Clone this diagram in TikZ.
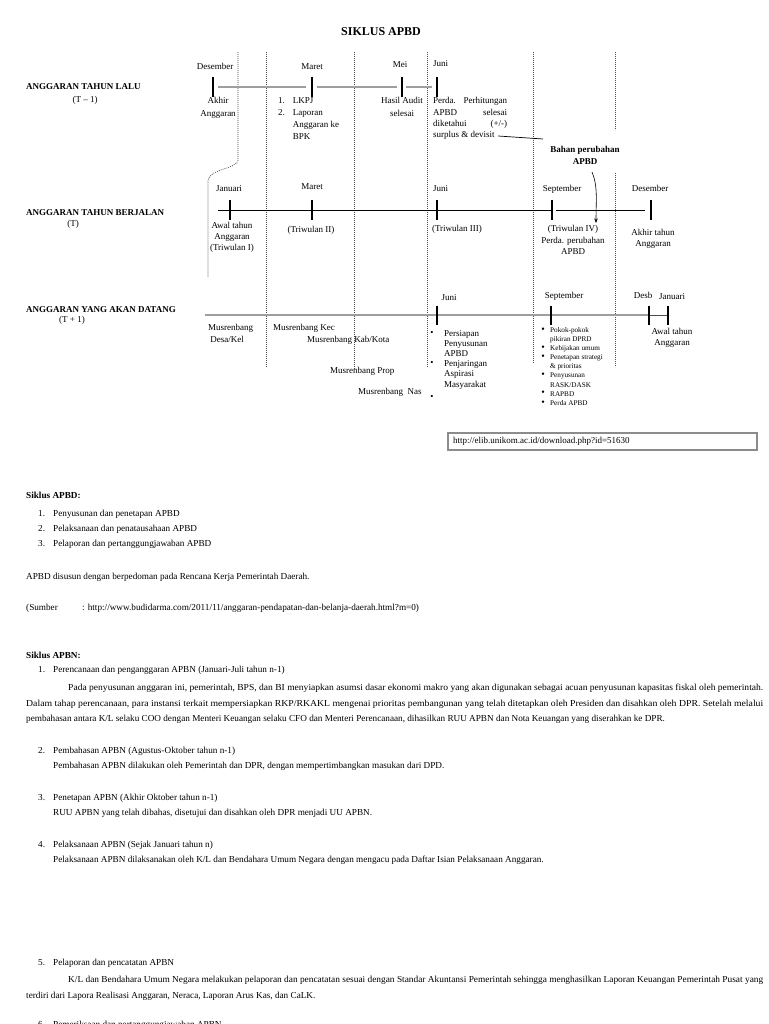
\documentclass[tikz,border=0pt]{standalone}
\usepackage{fontspec}
\setmainfont{Liberation Serif}
\usepackage{graphicx}
\usetikzlibrary{arrows.meta}
\newcommand\cstack[1]{\begin{tabular}[t]{@{}c@{}}#1\end{tabular}}
\newcommand\lstack[1]{\begin{tabular}[t]{@{}l@{}}#1\end{tabular}}
\newcommand\fitw[2]{\resizebox{#1pt}{\height}{#2}}
\begin{document}
\begin{tikzpicture}[x=1pt,y=-1pt,
  txt/.style={inner sep=0pt, font=\fontsize{9}{11.5}\selectfont},
  smalltxt/.style={inner sep=0pt, font=\fontsize{7.2}{9.1}\selectfont},
  body/.style={inner sep=0pt, anchor=base west, font=\fontsize{9.2}{11}\selectfont},
  bodyb/.style={body, font=\bfseries\fontsize{9.2}{11}\selectfont},
  rowlbl/.style={inner sep=0pt, anchor=base west, font=\bfseries\fontsize{9}{11}\selectfont},
  tickmark/.style={line width=2.4pt, black},
  greyline/.style={black!38, line width=1.1pt},
  blackline/.style={black, line width=0.9pt},
  dotln/.style={black!70, line width=0.75pt, dash pattern=on 0.9pt off 1.1pt},
  urlbox/.style={draw=black!45, line width=1.2pt, inner xsep=5pt, inner ysep=0pt,
    minimum height=17pt, text width=299pt, align=left, font=\fontsize{9}{11}\selectfont}
]
\useasboundingbox (0,0) rectangle (768,1024);
\clip (0,0) rectangle (768,1024);
\fill[white] (0,0) rectangle (768,1024);

% title
\node[inner sep=0pt, anchor=base, font=\bfseries\fontsize{12}{14}\selectfont] (title) at (381,36) {SIKLUS APBD};

% row labels
\node[rowlbl] (r1) at (26,90) {ANGGARAN TAHUN LALU};
\node[txt, anchor=base] (r1b) at (85,103) {(T – 1)};
\node[rowlbl] (r2) at (26,216) {ANGGARAN TAHUN BERJALAN};
\node[txt, anchor=base] (r2b) at (73,226) {(T)};
\node[rowlbl] (r3) at (26,312) {ANGGARAN YANG AKAN DATANG};
\node[txt, anchor=base] (r3b) at (72,322) {(T + 1)};

% dotted separators
\draw[dotln] (238,52) -- (238,161) .. controls (233,170) and (212,168) .. (208,180) -- (208,277);
\draw[dotln] (266,52) -- (266,367);
\draw[dotln] (354,52) -- (354,370);
\draw[dotln] (427,52) -- (427,367);
\draw[dotln] (533,52) -- (533,363);
\draw[dotln] (615,52) -- (615,130);
\draw[dotln] (615,173) -- (615,367);

% timeline T-1
\coordinate (d1) at (213,87);
\coordinate (m1) at (312,87);
\coordinate (e1) at (402,87);
\coordinate (j1) at (437,87);
\draw[greyline] ([xshift=5pt]d1) -- ([xshift=-6pt]m1);
\draw[greyline] ([xshift=5pt]m1) -- ([xshift=-5pt]e1);
\draw[greyline] ([xshift=4pt]e1) -- ([xshift=-5pt]j1);
\foreach \c in {d1,m1,e1,j1} \draw[tickmark] ([yshift=10pt]\c) -- ([yshift=-10pt]\c);

% timeline T
\coordinate (t2s) at (218,210);
\coordinate (ja2) at (230,210);
\coordinate (m2) at (312,210);
\coordinate (ju2) at (437,210);
\coordinate (s2) at (552,210);
\coordinate (de2) at (651,210);
\draw[blackline] (t2s) -- (s2);
\draw[blackline] ([xshift=4pt]s2) -- ([xshift=-6pt]de2);
\foreach \c in {ja2,m2,ju2,s2,de2} \draw[tickmark] ([yshift=10pt]\c) -- ([yshift=-10pt]\c);

% timeline T+1
\coordinate (t3s) at (205,315);
\coordinate (ju3) at (437,315);
\coordinate (s3) at (551,315);
\coordinate (db3) at (649,315);
\coordinate (ja3) at (668,315);
\draw[greyline] (t3s) -- (db3);
\draw[black!70, line width=0.8pt] (db3) -- (ja3);
\foreach \c in {ju3,s3,db3,ja3} \draw[tickmark] ([yshift=9.5pt]\c) -- ([yshift=-9.5pt]\c);

% labels T-1
\node[txt, anchor=base] (lDes1) at (215,70) {Desember};
\node[txt, anchor=base] (lMar1) at (312,70) {Maret};
\node[txt, anchor=base] (lMei1) at (400,68) {Mei};
\node[txt, anchor=base west] (lJun1) at (433,67) {Juni};
\node[txt, anchor=base, font=\fontsize{9}{12.5}\selectfont] (akhir1) at (218,104) {\cstack{Akhir\\Anggaran}};
\node[txt, anchor=base west, font=\fontsize{9}{11.8}\selectfont] (lkpj) at (278,104)
  {\begin{tabular}[t]{@{}l@{\hspace{8pt}}l@{}}1.&LKPJ\\2.&Laporan\\&Anggaran ke\\&BPK\end{tabular}};
\node[txt, anchor=base, font=\fontsize{9}{12.5}\selectfont] (audit) at (402,104) {\cstack{Hasil Audit\\selesai}};
\node[txt, anchor=base west, font=\fontsize{9}{11.3}\selectfont] (perda1) at (433,104)
  {\lstack{\makebox[74pt][s]{Perda.\ \ Perhitungan}\\\makebox[74pt][s]{APBD selesai}\\\makebox[74pt][s]{diketahui (+/-)}\\surplus \& devisit}};
\coordinate (cs) at (498,136);
\coordinate (ce) at (543,139);
\draw[line width=0.7pt] (cs) -- (ce);
\node[txt, anchor=base, font=\bfseries\fontsize{9}{12}\selectfont] (bahan) at (585,153) {\cstack{Bahan perubahan\\APBD}};
\coordinate (arrs) at (592,172);
\coordinate (arre) at (596,223);
\draw[line width=0.6pt, -{Stealth[length=4.5pt,width=3.5pt]}] (arrs) .. controls (598,186) and (596,200) .. (arre);

% labels T
\node[txt, anchor=base] (lJan2) at (229,192) {Januari};
\node[txt, anchor=base] (lMar2) at (312,190) {Maret};
\node[txt, anchor=base west] (lJun2) at (433,192) {Juni};
\node[txt, anchor=base] (lSep2) at (562,192) {September};
\node[txt, anchor=base] (lDes2) at (650,192) {Desember};
\node[txt, anchor=base, font=\fontsize{9}{10.8}\selectfont] (awal2) at (232,229) {\cstack{Awal tahun\\Anggaran\\(Triwulan I)}};
\node[txt, anchor=base] (tw2) at (311,233) {(Triwulan II)};
\node[txt, anchor=base] (tw3) at (457,232) {(Triwulan III)};
\node[txt, anchor=base, font=\fontsize{9}{11.3}\selectfont] (tw4) at (573,232) {\cstack{(Triwulan IV)\\Perda. perubahan\\APBD}};
\node[txt, anchor=base, font=\fontsize{9}{10.5}\selectfont] (akhir2) at (653,236) {\cstack{Akhir tahun\\Anggaran}};

% labels T+1
\node[txt, anchor=base] (lJun3) at (449,300) {Juni};
\node[txt, anchor=base] (lSep3) at (564,298) {September};
\node[txt, anchor=base] (lDesb3) at (643,298) {Desb};
\node[txt, anchor=base] (lJan3) at (672,299) {Januari};
\node[txt, anchor=base, font=\fontsize{9}{11}\selectfont] (awal3) at (672,334) {\cstack{Awal tahun\\Anggaran}};

\node[txt, anchor=base west, font=\fontsize{9}{12}\selectfont] (mdesa) at (208,330) {\lstack{Musrenbang\\\ Desa/Kel}};
\node[txt, anchor=base west] (mkec) at (273,330) {Musrenbang Kec};
\node[txt, anchor=base west] (mkab) at (307,342) {Musrenbang Kab/Kota};
\node[txt, anchor=base west] (mprop) at (330,373) {Musrenbang Prop};
\node[txt, anchor=base west] (mnas) at (358,394) {Musrenbang\ \ Nas};

% Juni bullets
\node[txt] (bj1) at (432,333) {\textbullet};
\node[txt] (bj2) at (432,363) {\textbullet};
\node[txt] (bj3) at (432,397) {\textbullet};
\node[txt, anchor=base west, font=\fontsize{9}{10}\selectfont] (pers) at (444,336) {\lstack{Persiapan\\Penyusunan\\APBD}};
\node[txt, anchor=base west, font=\fontsize{9}{10.8}\selectfont] (penj) at (444,366) {\lstack{Penjaringan\\Aspirasi\\Masyarakat}};

% September bullets
\node[smalltxt, anchor=base west] (sepl) at (550,332.4)
  {\lstack{Pokok-pokok\\pikiran DPRD\\Kebijakan umum\\Penetapan strategi\\\& prioritas\\Penyusunan\\RASK/DASK\\RAPBD\\Perda APBD}};
\foreach \i/\yy in {1/330,2/348.2,3/357.3,4/375.5,5/393.7,6/402.8}
  \node[inner sep=0pt, font=\fontsize{10}{10}\selectfont] (bs\i) at (543,\yy) {\textbullet};

% URL box
\node[urlbox] (url) at (602.5,441.5) {http://elib.unikom.ac.id/download.php?id=51630};

% body text
\node[bodyb] (h1) at (26,498) {Siklus APBD:};
\node[body] (n1) at (38,516) {1.};
\node[body] (i1) at (53,516) {Penyusunan dan penetapan APBD};
\node[body] (n2) at (38,531) {2.};
\node[body] (i2) at (53,531) {Pelaksanaan dan penatausahaan APBD};
\node[body] (n3) at (38,546) {3.};
\node[body] (i3) at (53,546) {Pelaporan dan pertanggungjawaban APBD};
\node[body] (p1) at (26,579) {APBD disusun dengan berpedoman pada Rencana Kerja Pemerintah Daerah.};
\node[body] (src1) at (26,610) {(Sumber};
\node[body] (src2) at (82,610) {: http://www.budidarma.com/2011/11/anggaran-pendapatan-dan-belanja-daerah.html?m=0)};

\node[bodyb] (h2) at (26,658) {Siklus APBN:};
\node[body] (a1n) at (38,672) {1.};
\node[body] (a1) at (53,672) {Perencanaan dan penganggaran APBN (Januari-Juli tahun n-1)};
\node[body] (a1l1) at (68,690) {\fitw{695}{Pada penyusunan anggaran ini, pemerintah, BPS, dan BI menyiapkan asumsi dasar ekonomi makro yang akan digunakan sebagai acuan penyusunan kapasitas fiskal oleh pemerintah.}};
\node[body] (a1l2) at (26,706) {\fitw{737}{Dalam tahap perencanaan, para instansi terkait mempersiapkan RKP/RKAKL mengenai prioritas pembangunan yang telah ditetapkan oleh Presiden dan disahkan oleh DPR. Setelah melalui}};
\node[body] (a1l3) at (26,721) {pembahasan antara K/L selaku COO dengan Menteri Keuangan selaku CFO dan Menteri Perencanaan, dihasilkan RUU APBN dan Nota Keuangan yang diserahkan ke DPR.};

\node[body] (a2n) at (38,753) {2.};
\node[body] (a2) at (53,753) {Pembahasan APBN (Agustus-Oktober tahun n-1)};
\node[body] (a2l1) at (53,768) {Pembahasan APBN dilakukan oleh Pemerintah dan DPR, dengan mempertimbangkan masukan dari DPD.};

\node[body] (a3n) at (38,800) {3.};
\node[body] (a3) at (53,800) {Penetapan APBN (Akhir Oktober tahun n-1)};
\node[body] (a3l1) at (53,815) {RUU APBN yang telah dibahas, disetujui dan disahkan oleh DPR menjadi UU APBN.};

\node[body] (a4n) at (38,847) {4.};
\node[body] (a4) at (53,847) {Pelaksanaan APBN (Sejak Januari tahun n)};
\node[body] (a4l1) at (53,862) {Pelaksanaan APBN dilaksanakan oleh K/L dan Bendahara Umum Negara dengan mengacu pada Daftar Isian Pelaksanaan Anggaran.};

\node[body] (a5n) at (38,965) {5.};
\node[body] (a5) at (53,965) {Pelaporan dan pencatatan APBN};
\node[body] (a5l1) at (68,982) {\fitw{695}{K/L dan Bendahara Umum Negara melakukan pelaporan dan pencatatan sesuai dengan Standar Akuntansi Pemerintah sehingga menghasilkan Laporan Keuangan Pemerintah Pusat yang}};
\node[body] (a5l2) at (26,998) {terdiri dari Lapora Realisasi Anggaran, Neraca, Laporan Arus Kas, dan CaLK.};

\node[body] (a6n) at (38,1027) {6.};
\node[body] (a6) at (53,1027) {Pemeriksaan dan pertanggungjawaban APBN};
\end{tikzpicture}
\end{document}
